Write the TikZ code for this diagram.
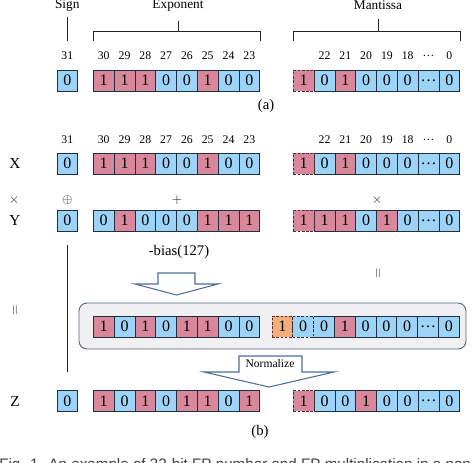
\documentclass[tikz,border=0pt]{standalone}
\usepackage{fontspec}
\setmainfont{Liberation Serif}
\newfontfamily\capfont{Liberation Sans}
\usetikzlibrary{positioning,calc}
\definecolor{cblue}{HTML}{9DD3F6}
\definecolor{cred}{HTML}{D9879A}
\definecolor{corange}{HTML}{F4AE7B}
\definecolor{cline}{HTML}{1E2F3F}
\definecolor{cdash}{HTML}{5C2A33}
\definecolor{cpanel}{HTML}{F0F0F2}
\definecolor{cedge}{HTML}{56677C}
\definecolor{carrow}{HTML}{4E6E9A}
\definecolor{ctext}{HTML}{222222}

\tikzset{
 cell/.style={draw=cline, line width=0.6pt, minimum width=15.6pt, minimum height=15.6pt, inner sep=0pt, font=\fontsize{12}{12}\selectfont},
 b0/.style={fill=cblue}, b1/.style={fill=cred}, bd/.style={fill=cblue},
 hid/.style={fill=cred, draw=cdash, dash pattern=on 2pt off 1.2pt},
 hidz/.style={fill=cblue, dash pattern=on 2pt off 1.2pt},
 lead/.style={fill=corange, draw=cdash, dash pattern=on 2pt off 1.2pt},
 idx/.style={font=\fontsize{8.8}{9}\selectfont, inner sep=0pt},
 head/.style={font=\fontsize{10}{11}\selectfont, inner sep=0pt},
 var/.style={font=\fontsize{11.5}{12}\selectfont, inner sep=0pt},
 op/.style={font=\fontsize{10}{10}\selectfont, inner sep=0pt, text=ctext},
 tag/.style={font=\fontsize{11}{12}\selectfont, inner sep=0pt},
 barline/.style={draw=ctext, line width=0.6pt},
 block/.style={draw=carrow, fill=white, line width=0.8pt, line join=miter},
}

% one row of bit cells: name, x of first centre, y, bits
\newcommand\bitrow[4]{%
 \foreach \v [count=\i] in {#4}
  \node[cell, b\v] (#1\i) at ({#2+(\i-1)*20.8},#3) {\if\v d\dots\else\v\fi};
}
% index labels over one row: prefix, y
\newcommand\idxrow[2]{%
 \node[idx] (#131) at (67.3,#2) {31};
 \foreach \n [count=\i] in {30,29,...,23}
  \node[idx] (#1e\i) at ({103.7+(\i-1)*20.8},#2) {\n};
 \foreach \n [count=\i] in {22,21,20,19,18,\dots,0}
  \node[idx] (#1m\i) at ({324.5+(\i-1)*20.8},#2) {\n};
}

\begin{document}
\begin{tikzpicture}[x=0.75pt, y=-0.75pt]
 \useasboundingbox (0,0) rectangle (474,462);

 % (a) single number
 \node[head] (sign) at (67.3,6) {Sign};
 \node[head] (exp) at (178,6) {Exponent};
 \node[head] (man) at (378,5) {Mantissa};
 \idxrow{a}{56}
 \node[cell, b0] (as) at (67.3,80.5) {0};
 \bitrow{ae}{103.7}{80.5}{1,1,1,0,0,1,0,0}
 \bitrow{am}{324.5}{80.5}{0,1,0,0,0,d,0}
 \node[cell, hid] (ah) at (303.7,80.5) {1};
 \coordinate (brk) at (0,41);
 \coordinate (bar) at (0,31.7);
 \draw[barline, shorten <=3.8pt, shorten >=8pt] (sign.south) -- (a31.north);
 \draw[barline] (ae1.west |- brk) |- (exp.south |- bar) -| (ae8.east |- brk);
 \draw[barline, shorten <=6.5pt] (exp.south) -- (exp.south |- bar);
 \draw[barline] (ah.west |- brk) |- (man.south |- bar) -| (am7.east |- brk);
 \draw[barline, shorten <=7pt] (man.south) -- (man.south |- bar);
 \node[tag] (capa) at (266,106) {(a)};

 % (b) multiplication
 \idxrow{b}{140}
 \node[var] (X) at (15,163.5) {X};
 \node[cell, b0] (xs) at (67.3,163.5) {0};
 \bitrow{xe}{103.7}{163.5}{1,1,1,0,0,1,0,0}
 \bitrow{xm}{324.5}{163.5}{0,1,0,0,0,d,0}
 \node[cell, hid] (xh) at (303.7,163.5) {1};

 \node[op] (mul) at (14,200) {$\times$};
 \node[op] (xor) at (67.3,200) {$\oplus$};
 \node[op] (add) at (177,200) {$+$};
 \node[op] (mmul) at (377,200) {$\times$};

 \node[var] (Y) at (15,220.5) {Y};
 \node[cell, b0] (ys) at (67.3,220.5) {0};
 \bitrow{ye}{103.7}{220.5}{0,1,0,0,0,1,1,1}
 \bitrow{ym}{324.5}{220.5}{1,1,0,1,0,d,0}
 \node[cell, hid] (yh) at (303.7,220.5) {1};

 \node[tag] (bias) at (179,252) {-bias(127)};
 \draw[block] (158,273) -- (195,273) -- (195,284) -- (218,284) -- (176.5,295)
  -- (135,284) -- (158,284) -- cycle;
 \node[op, rotate=90] (eqm) at (379,273) {$=$};
 \node[op, rotate=90] (eqs) at (16,310) {$=$};

 \draw[draw=cedge, fill=cpanel, line width=0.7pt, rounded corners=6pt] (79,303) rectangle (466,349);
 \bitrow{pe}{103.7}{326.5}{1,0,1,0,1,1,0,0}
 \bitrow{pm}{324.0}{326.5}{0,1,0,0,0,d,0}
 \node[cell, lead] (pl) at (282.4,326.5) {1};
 \node[cell, hidz] (pz) at (303.2,326.5) {0};

 \draw[block] (239,356) -- (302,356) -- (302,372) -- (334,372) -- (269,387)
  -- (204,372) -- (239,372) -- cycle;
 \node[font=\fontsize{8.7}{9}\selectfont, inner sep=0pt] (norm) at (270,364) {Normalize};

 \node[var] (Z) at (15,401) {Z};
 \node[cell, b0] (zs) at (67.3,401) {0};
 \bitrow{ze}{103.7}{401}{1,0,1,0,1,1,0,1}
 \bitrow{zm}{324.5}{401}{0,0,1,0,0,d,0}
 \node[cell, hid] (zh) at (303.7,401) {1};
 \draw[barline, shorten <=10.5pt, shorten >=14pt] (ys.south) -- (zs.north);
 \node[tag] (capb) at (260,432) {(b)};

 % caption, cut at the lower edge
 \begin{scope}
  \clip (0,0) rectangle (474,462);
  \node[font=\capfont\fontsize{11.4}{12}\selectfont, text=black!75, anchor=base west, inner sep=0pt] (cap) at (-1,469)
   {Fig. 1.  An example of 32-bit FP number and FP multiplication in a non};
 \end{scope}
\end{tikzpicture}
\end{document}
